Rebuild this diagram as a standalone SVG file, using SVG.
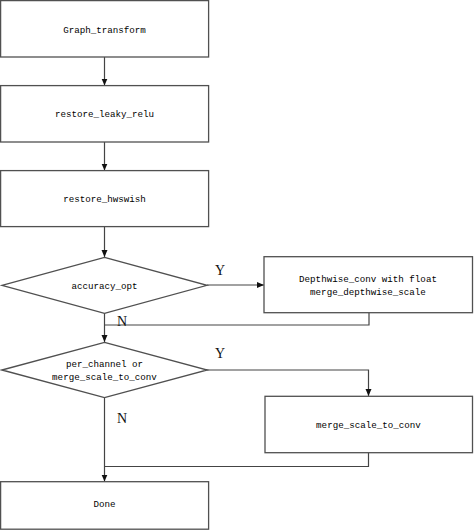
<svg xmlns="http://www.w3.org/2000/svg" width="474" height="530" viewBox="0 0 474 530">
<style>
.n{fill:#fff;stroke:#505050;stroke-width:1.3}
.t{font-family:"Liberation Mono",monospace;font-size:9.2px;fill:#000;text-anchor:middle;dominant-baseline:central}
.l{font-family:"Liberation Serif",serif;font-size:14px;fill:#111;text-anchor:middle;dominant-baseline:central}
.c{fill:none;stroke:#444;stroke-width:1.2}
</style>
<defs>
<marker id="a" viewBox="0 0 7 7" refX="7" refY="3.5" markerWidth="7" markerHeight="7" markerUnits="userSpaceOnUse" orient="auto">
<path d="M0,0.5 L7,3.5 L0,6.5 Z" fill="#111"/>
</marker>
</defs>
<rect width="474" height="530" fill="#fff"/>
<g id="connectors">
<line class="c" x1="104.5" y1="57" x2="104.5" y2="85.5" marker-end="url(#a)"/>
<line class="c" x1="104.5" y1="142" x2="104.5" y2="170.5" marker-end="url(#a)"/>
<line class="c" x1="104.5" y1="226.5" x2="104.5" y2="257" marker-end="url(#a)"/>
<line class="c" x1="207" y1="285" x2="264" y2="285" marker-end="url(#a)"/>
<polyline class="c" points="369,312.5 369,325 104.5,325"/>
<line class="c" x1="104.5" y1="313" x2="104.5" y2="342" marker-end="url(#a)"/>
<polyline class="c" points="207,370 368.5,370 368.5,396" marker-end="url(#a)"/>
<polyline class="c" points="368.5,452.5 368.5,466.5 104.5,466.5"/>
<line class="c" x1="104.5" y1="397.5" x2="104.5" y2="481.5" marker-end="url(#a)"/>
<text class="l" x="220" y="270">Y</text>
<text class="l" x="122" y="321">N</text>
<text class="l" x="220" y="353">Y</text>
<text class="l" x="122" y="418">N</text>
</g>
<g id="graph_transform">
<rect class="n" x="0.6" y="0.6" width="208" height="56.4"/>
<text class="t" x="104.5" y="30">Graph_transform</text>
</g>
<g id="restore_leaky_relu">
<rect class="n" x="0.6" y="85.6" width="208" height="56.4"/>
<text class="t" x="104.5" y="114.5">restore_leaky_relu</text>
</g>
<g id="restore_hwswish">
<rect class="n" x="0.6" y="170.6" width="208" height="56"/>
<text class="t" x="104.5" y="199">restore_hwswish</text>
</g>
<g id="accuracy_opt">
<polygon class="n" points="104.5,257.3 207,285.3 104.5,313.3 2,285.3"/>
<text class="t" x="104.5" y="286">accuracy_opt</text>
</g>
<g id="depthwise">
<rect class="n" x="264" y="256.7" width="208.5" height="56"/>
<text class="t" x="368" y="279.5">Depthwise_conv with float</text>
<text class="t" x="368" y="292.5">merge_depthwise_scale</text>
</g>
<g id="per_channel">
<polygon class="n" points="104.5,342.3 207.3,370 104.5,397.7 2,370"/>
<text class="t" x="104.5" y="364">per_channel or</text>
<text class="t" x="104.5" y="377">merge_scale_to_conv</text>
</g>
<g id="merge_scale_to_conv">
<rect class="n" x="265" y="396.3" width="207.5" height="56.4"/>
<text class="t" x="368.5" y="425">merge_scale_to_conv</text>
</g>
<g id="done">
<rect class="n" x="0.6" y="481.7" width="208" height="47.5"/>
<text class="t" x="104.5" y="504">Done</text>
</g>
</svg>
